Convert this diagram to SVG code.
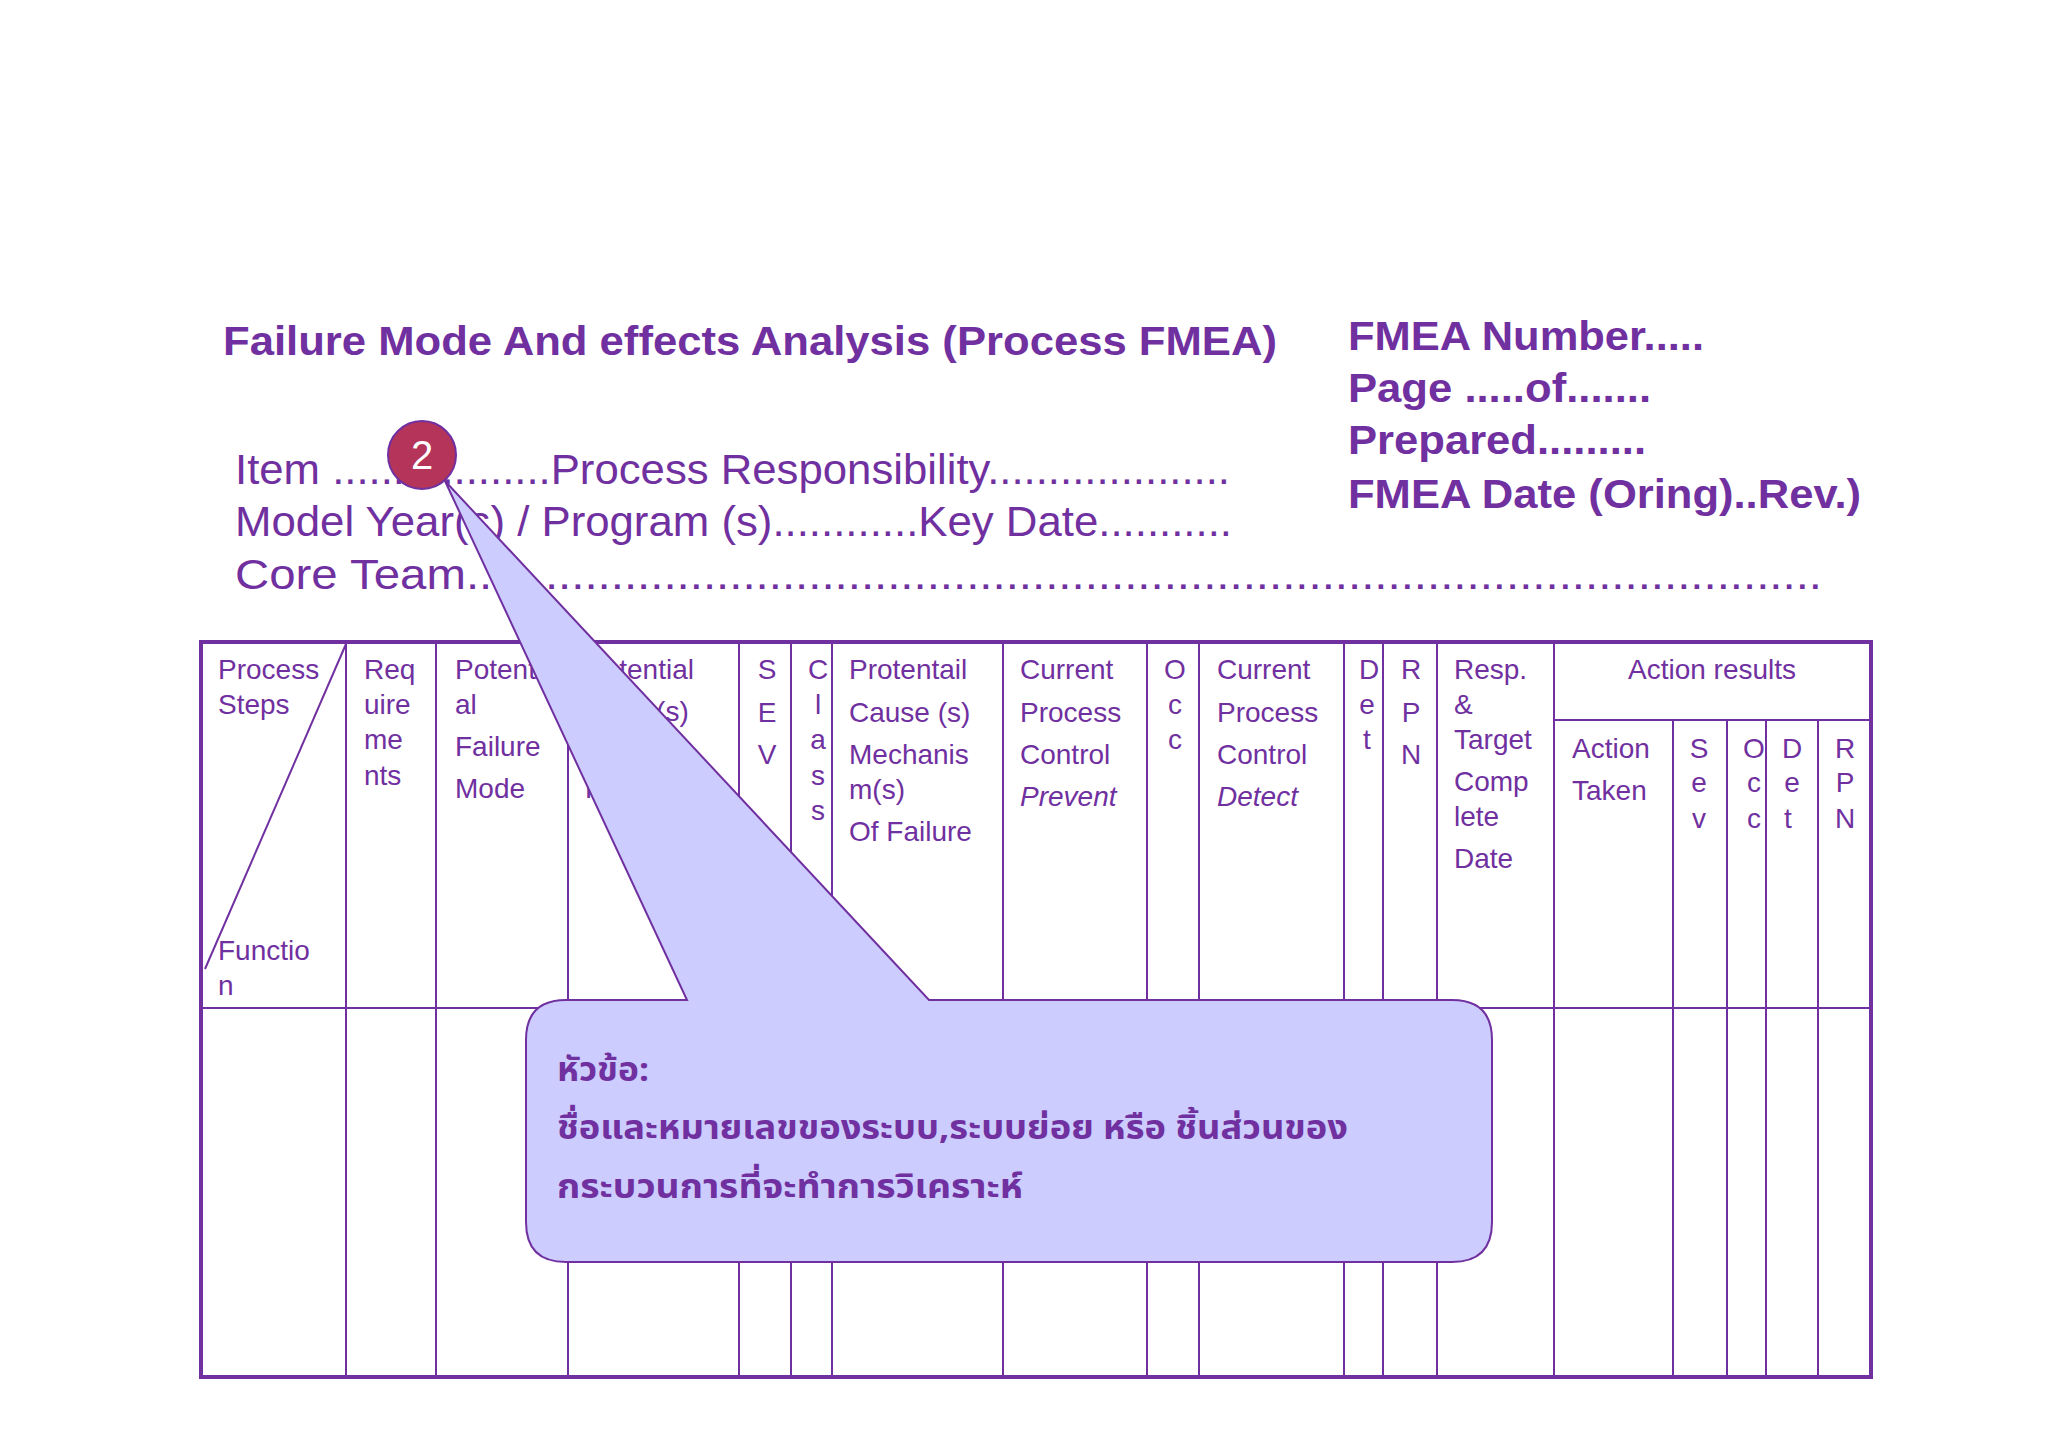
<svg xmlns="http://www.w3.org/2000/svg" width="2048" height="1448" viewBox="0 0 2048 1448">
<style>
.t{font-family:"Liberation Sans",Arial,sans-serif;fill:#7030A0}
.h{font-size:28px}
.c{text-anchor:middle}
.b{font-weight:bold;font-size:41px}
.i{font-size:42px}
.ln{stroke:#7030A0;stroke-width:2;fill:none}
.th{font-family:"Noto Sans Thai","Noto Sans","DejaVu Sans",sans-serif;fill:#7030A0;font-size:33px;font-weight:bold}
</style>
<rect width="2048" height="1448" fill="#fff"/>
<g id="header">
<text class="t b" x="223" y="355" textLength="1054" lengthAdjust="spacingAndGlyphs">Failure Mode And effects Analysis (Process FMEA)</text>
<text class="t b" x="1348" y="350" textLength="356" lengthAdjust="spacingAndGlyphs">FMEA Number.....</text>
<text class="t b" x="1348" y="402" textLength="303" lengthAdjust="spacingAndGlyphs">Page .....of.......</text>
<text class="t b" x="1348" y="454" textLength="298" lengthAdjust="spacingAndGlyphs">Prepared.........</text>
<text class="t b" x="1348" y="508" textLength="513" lengthAdjust="spacingAndGlyphs">FMEA Date (Oring)..Rev.)</text>
<text class="t i" x="235" y="484" textLength="995" lengthAdjust="spacingAndGlyphs">Item ..................Process Responsibility....................</text>
<text class="t i" x="235" y="536" textLength="997" lengthAdjust="spacingAndGlyphs">Model Year(s) / Program (s)............Key Date...........</text>
<text class="t i" x="235" y="589" textLength="1587" lengthAdjust="spacingAndGlyphs">Core Team.......................................................................................................</text>
</g>
<g id="table">
<rect x="201" y="642" width="1670" height="735" class="ln" style="stroke-width:4"/>
<line class="ln" x1="201" y1="1008" x2="1871" y2="1008"/>
<line class="ln" x1="1554" y1="720" x2="1871" y2="720"/>
<g class="ln">
<line x1="346" y1="642" x2="346" y2="1377"/><line x1="436" y1="642" x2="436" y2="1377"/>
<line x1="568" y1="642" x2="568" y2="1377"/><line x1="739" y1="642" x2="739" y2="1377"/>
<line x1="791" y1="642" x2="791" y2="1377"/><line x1="832" y1="642" x2="832" y2="1377"/>
<line x1="1003" y1="642" x2="1003" y2="1377"/><line x1="1147" y1="642" x2="1147" y2="1377"/>
<line x1="1199" y1="642" x2="1199" y2="1377"/><line x1="1344" y1="642" x2="1344" y2="1377"/>
<line x1="1383" y1="642" x2="1383" y2="1377"/><line x1="1437" y1="642" x2="1437" y2="1377"/>
<line x1="1554" y1="642" x2="1554" y2="1377"/>
<line x1="1673" y1="720" x2="1673" y2="1377"/><line x1="1727" y1="720" x2="1727" y2="1377"/>
<line x1="1766" y1="720" x2="1766" y2="1377"/><line x1="1818" y1="720" x2="1818" y2="1377"/>
<line x1="346" y1="644" x2="205" y2="969"/>
</g>
<g class="t h">
<text x="218" y="679">Process</text><text x="218" y="714">Steps</text>
<text x="218" y="960">Functio</text><text x="218" y="995">n</text>
<text x="364" y="679">Req</text><text x="364" y="714">uire</text><text x="364" y="749">me</text><text x="364" y="785">nts</text>
<text x="455" y="679">Potenti</text><text x="455" y="714">al</text><text x="455" y="756">Failure</text><text x="455" y="798">Mode</text>
<text x="585" y="679">Potential</text><text x="585" y="721">Effect(s)</text><text x="585" y="763">Of</text><text x="585" y="798">Failure</text>
<g class="c"><text x="767" y="679">S</text><text x="767" y="722">E</text><text x="767" y="764">V</text>
<text x="818" y="679">C</text><text x="818" y="714">l</text><text x="818" y="749">a</text><text x="818" y="785">s</text><text x="818" y="820">s</text></g>
<text x="849" y="679">Protentail</text><text x="849" y="722">Cause (s)</text><text x="849" y="764">Mechanis</text><text x="849" y="799">m(s)</text><text x="849" y="841">Of Failure</text>
<text x="1020" y="679">Current</text><text x="1020" y="722">Process</text><text x="1020" y="764">Control</text><text x="1020" y="806" font-style="italic">Prevent</text>
<g class="c"><text x="1175" y="679">O</text><text x="1175" y="714">c</text><text x="1175" y="749">c</text></g>
<text x="1217" y="679">Current</text><text x="1217" y="722">Process</text><text x="1217" y="764">Control</text><text x="1217" y="806" font-style="italic">Detect</text>
<g class="c"><text x="1369" y="679">D</text><text x="1367" y="714">e</text><text x="1367" y="749">t</text>
<text x="1411" y="679">R</text><text x="1411" y="722">P</text><text x="1411" y="764">N</text></g>
<text x="1454" y="679">Resp.</text><text x="1454" y="714">&amp;</text><text x="1454" y="749">Target</text><text x="1454" y="791">Comp</text><text x="1454" y="826">lete</text><text x="1454" y="868">Date</text>
<text x="1712" y="679" class="c">Action results</text>
<text x="1572" y="758">Action</text><text x="1572" y="800">Taken</text>
<g class="c"><text x="1699" y="758">S</text><text x="1699" y="792">e</text><text x="1699" y="828">v</text>
<text x="1754" y="758">O</text><text x="1754" y="792">c</text><text x="1754" y="828">c</text>
<text x="1792" y="758">D</text><text x="1792" y="792">e</text><text x="1788" y="828">t</text>
<text x="1845" y="758">R</text><text x="1845" y="792">P</text><text x="1845" y="828">N</text></g>
</g>
</g>
<g id="callout">
<path d="M929 1000 L1452 1000 Q1492 1000 1492 1040 L1492 1222 Q1492 1262 1452 1262 L566 1262 Q526 1262 526 1222 L526 1040 Q526 1000 566 1000 L687 1000 L445 481 Z" fill="#CCCCFF" stroke="#7030A0" stroke-width="2"/>
<text class="th" x="557" y="1081" textLength="92" lengthAdjust="spacingAndGlyphs">หัวข้อ:</text>
<text class="th" x="557" y="1139" textLength="791" lengthAdjust="spacingAndGlyphs">ชื่อและหมายเลขของระบบ,ระบบย่อย หรือ ชิ้นส่วนของ</text>
<text class="th" x="557" y="1198" textLength="466" lengthAdjust="spacingAndGlyphs">กระบวนการที่จะทำการวิเคราะห์</text>
</g>
<g id="badge">
<circle cx="422" cy="455" r="34" fill="#B5345A" stroke="#7030A0" stroke-width="2"/>
<text x="422" y="469" font-family="Liberation Sans,Arial,sans-serif" font-size="40" fill="#fff" text-anchor="middle">2</text>
</g>
</svg>
